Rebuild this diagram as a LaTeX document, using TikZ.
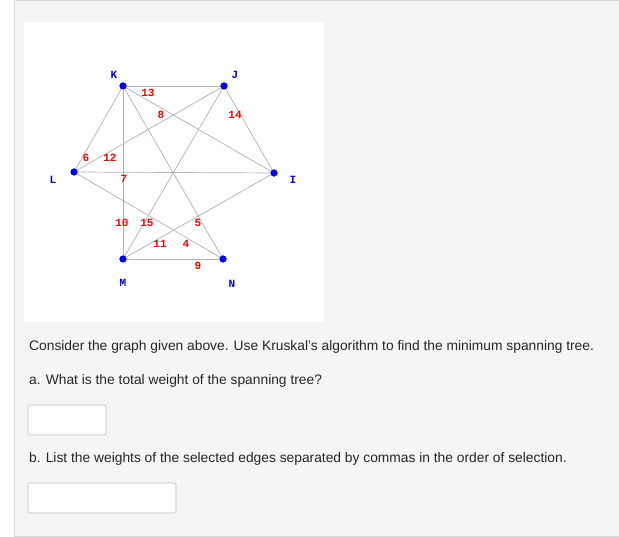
\documentclass[tikz,border=0pt]{standalone}
\usepackage{fontspec}
\setmainfont{Liberation Sans}
\newfontfamily\gmono{Liberation Mono}
\begin{document}
\begin{tikzpicture}[x=1pt,y=-1pt,
  edge/.style={draw=black!30,line width=0.7pt},
  vtx/.style={circle,fill=blue,inner sep=0pt,minimum size=7pt},
  wlab/.style={text=red,font=\gmono\bfseries\fontsize{11}{11}\selectfont,inner sep=0pt},
  vlab/.style={text=blue,font=\gmono\bfseries\fontsize{11}{11}\selectfont,inner sep=0pt},
  qtext/.style={anchor=west,font=\fontsize{13.8}{16}\selectfont,text=black!85,inner sep=0pt},
  inbox/.style={draw=black!25,fill=white,rounded corners=2pt,line width=0.6pt}]
\useasboundingbox (0,0) rectangle (619,537);
\fill[white] (0,0) rectangle (619,537);
\draw[black!15,fill=black!4] (14,0) rectangle (619,536);
\fill[white] (24,22) rectangle (324,322);
\node[vtx] (K) at (123,86) {};
\node[vtx] (J) at (224,86) {};
\node[vtx] (L) at (74,172) {};
\node[vtx] (I) at (274,173) {};
\node[vtx] (M) at (123,259) {};
\node[vtx] (N) at (223,259) {};
\draw[edge] (K.center)--(J.center); \draw[edge] (K.center)--(I.center); \draw[edge] (K.center)--(L.center);
\draw[edge] (K.center)--(M.center); \draw[edge] (K.center)--(N.center); \draw[edge] (J.center)--(L.center);
\draw[edge] (J.center)--(M.center); \draw[edge] (J.center)--(I.center); \draw[edge] (L.center)--(I.center);
\draw[edge] (L.center)--(N.center); \draw[edge] (M.center)--(I.center); \draw[edge] (M.center)--(N.center);
\node[vtx] at (K) {}; \node[vtx] at (J) {}; \node[vtx] at (L) {};
\node[vtx] at (I) {}; \node[vtx] at (M) {}; \node[vtx] at (N) {};
\node[vlab] (lK) at (114,75) {K};
\node[vlab] (lJ) at (235,75) {J};
\node[vlab] (lL) at (53,180) {L};
\node[vlab] (lI) at (293,180) {I};
\node[vlab] (lM) at (123,283) {M};
\node[vlab] (lN) at (232,284) {N};
\node[wlab] (w13) at (148,93) {13};
\node[wlab] (w8) at (161,115) {8};
\node[wlab] (w14) at (235,115) {14};
\node[wlab] (w6) at (86,158) {6};
\node[wlab] (w12) at (110,158) {12};
\node[wlab] (w7) at (124,179) {7};
\node[wlab] (w10) at (122,223) {10};
\node[wlab] (w15) at (147,223) {15};
\node[wlab] (w11) at (160,244) {11};
\node[wlab] (w4) at (186,244) {4};
\node[wlab] (w5) at (198,223) {5};
\node[wlab] (w9) at (198,266) {9};
\node[qtext] (q1) at (29,347) {Consider the graph given above. Use Kruskal's algorithm to find the minimum spanning tree.};
\node[qtext] (q2) at (29,381) {a. What is the total weight of the spanning tree?};
\draw[inbox] (28,405) rectangle (106,435);
\node[qtext] (q3) at (29,459) {b. List the weights of the selected edges separated by commas in the order of selection.};
\draw[inbox] (28,483) rectangle (176,513);
\end{tikzpicture}
\end{document}
